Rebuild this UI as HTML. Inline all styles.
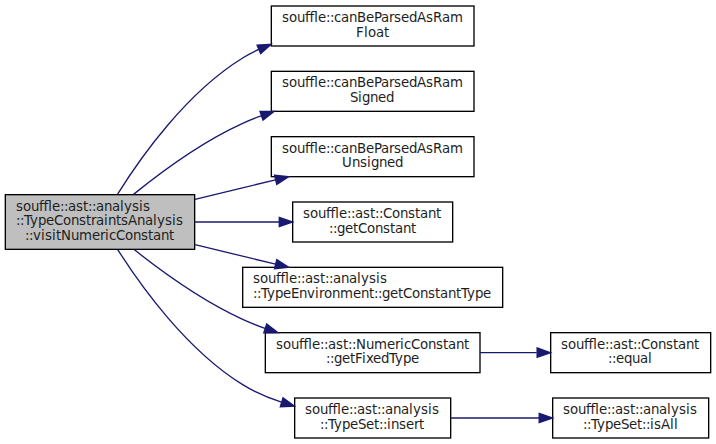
<!DOCTYPE html>
<html lang="en">
<head>
<meta charset="utf-8">
<title>souffle::ast::analysis::TypeConstraintsAnalysis::visitNumericConstant call graph</title>
<style>
html,body{margin:0;padding:0;background:#fff;}
body{width:716px;height:444px;overflow:hidden;}
svg{display:block;}
.node rect{stroke:#000;stroke-width:1.3333px;fill:#fff;}
.node.root rect{fill:#bfbfbf;}
.node text{font-family:"DejaVu Sans","Liberation Sans",sans-serif;font-size:13.3333px;fill:#1e1e1e;text-anchor:start;white-space:pre;}
.edge path{fill:none;stroke:#191970;stroke-width:1.3333px;}
.edge polygon{fill:#191970;stroke:#191970;stroke-width:1.3333px;}
</style>
</head>
<body>
<svg width="716" height="444" viewBox="0 0 716 444">
<rect x="0" y="0" width="716" height="444" fill="#fff"/>
<g id="node1" class="node root">
<rect x="5.33" y="194.67" width="189.33" height="54.67"/>
<text x="16" y="211" dx="0 0.0469 -0.1562 -0.4531 0 0 0.1094 -0.2031 -0.5 -0.5 -0.1719 0.0469 -0.2344 -0.5 -0.5 -0.1719 -0.4531 -0.1719 0.2969 0.1094 0.0469 0.2969">souffle::ast::analysis</text>
<text x="16" y="225" dx="0 -0.5 -0.5 -0.0781 0.1094 -0.4688 -0.2031 -0.3125 -0.1562 -0.4531 0.0469 -0.2344 -0.4844 -0.1719 0.2969 -0.4531 -0.2344 0.0469 -0.125 -0.4531 -0.1719 0.2969 0.1094 0.0469 0.2969">::TypeConstraintsAnalysis</text>
<text x="25" y="240" dx="0 -0.5 -0.5 0.1094 0.2969 0.0469 0.2969 -0.2344 0.0156 -0.4531 0.0156 -0.2031 -0.4844 0.2969 -0.3281 -0.3125 -0.1562 -0.4531 0.0469 -0.2344 -0.1719 -0.4531">::visitNumericConstant</text>
</g>
<g id="node2" class="node">
<rect x="271.33" y="6" width="202.67" height="40"/>
<text x="282" y="22" dx="0 0.0469 -0.1562 -0.4531 0 0 0.1094 -0.2031 -0.5 -0.5 -0.3281 -0.1719 -0.4531 -0.1562 -0.2031 -0.4531 -0.1719 -0.4844 0.0469 -0.2031 -0.4688 -0.125 0.0469 0.0312 -0.1719">souffle::canBeParsedAsRam</text>
<text x="356" y="37" dx="0 0.3281 0.2969 -0.1562 -0.1719">Float</text>
</g>
<g id="edge1" class="edge">
<path d="M117.61,194.12C140.65,157.19 186.33,92.67 242.67,58 247.77,54.87 253.16,52.03 258.73,49.48"/>
<polygon points="257.07,45.12 271.17,44.32 260.64,53.73 257.07,45.12"/>
</g>
<g id="node3" class="node">
<rect x="271.33" y="71.33" width="202.67" height="40"/>
<text x="282" y="87" dx="0 0.0469 -0.1562 -0.4531 0 0 0.1094 -0.2031 -0.5 -0.5 -0.3281 -0.1719 -0.4531 -0.1562 -0.2031 -0.4531 -0.1719 -0.4844 0.0469 -0.2031 -0.4688 -0.125 0.0469 0.0312 -0.1719">souffle::canBeParsedAsRam</text>
<text x="350" y="102" dx="0 -0.4688 0.2969 -0.4688 -0.4531 -0.2031">Signed</text>
</g>
<g id="edge2" class="edge">
<path d="M133.49,194.37C160.85,172.19 202.08,141.79 242.67,123.33 248.57,120.65 254.75,118.16 261.04,115.87"/>
<polygon points="260,111.31 274.12,111.44 263,120.13 260,111.31"/>
</g>
<g id="node4" class="node">
<rect x="271.33" y="136.67" width="202.67" height="40"/>
<text x="282" y="153" dx="0 0.0469 -0.1562 -0.4531 0 0 0.1094 -0.2031 -0.5 -0.5 -0.3281 -0.1719 -0.4531 -0.1562 -0.2031 -0.4531 -0.1719 -0.4844 0.0469 -0.2031 -0.4688 -0.125 0.0469 0.0312 -0.1719">souffle::canBeParsedAsRam</text>
<text x="342" y="167" dx="0 0.2344 -0.4531 0.0469 0.2969 -0.4688 -0.4531 -0.2031">Unsigned</text>
</g>
<g id="edge3" class="edge">
<path d="M195.01,199.33C221.07,193.03 249.4,186.17 275.57,179.84"/>
<polygon points="274.59,175.28 288.64,176.68 276.77,184.35 274.59,175.28"/>
</g>
<g id="node5" class="node">
<rect x="292.67" y="202" width="160" height="40"/>
<text x="303" y="218" dx="0 0.0469 -0.1562 -0.4531 0 0 0.1094 -0.2031 -0.5 -0.5 -0.1719 0.0469 -0.2344 -0.5 -0.5 -0.3125 -0.1562 -0.4531 0.0469 -0.2344 -0.1719 -0.4531">souffle::ast::Constant</text>
<text x="329" y="233" dx="0 -0.5 -0.5 -0.4688 -0.2031 -0.2344 -0.3125 -0.1562 -0.4531 0.0469 -0.2344 -0.1719 -0.4531">::getConstant</text>
</g>
<g id="edge4" class="edge">
<path d="M195.01,222C222.24,222 251.96,222 279.09,222"/>
<polygon points="279.28,217.33 292.61,222 279.28,226.67 279.28,217.33"/>
</g>
<g id="node6" class="node">
<rect x="242.67" y="267.33" width="260" height="40"/>
<text x="253" y="283" dx="0 0.0469 -0.1562 -0.4531 0 0 0.1094 -0.2031 -0.5 -0.5 -0.1719 0.0469 -0.2344 -0.5 -0.5 -0.1719 -0.4531 -0.1719 0.2969 0.1094 0.0469 0.2969">souffle::ast::analysis</text>
<text x="253" y="298" dx="0 -0.5 -0.5 -0.0781 0.1094 -0.4688 -0.2031 -0.4219 -0.4531 0.1094 0.2969 -0.1875 -0.1562 -0.4531 0.0156 -0.2031 -0.4531 -0.2344 -0.5 -0.5 -0.4688 -0.2031 -0.2344 -0.3125 -0.1562 -0.4531 0.0469 -0.2344 -0.1719 -0.4531 -0.2344 -0.0781 0.1094 -0.4688">::TypeEnvironment::getConstantType</text>
</g>
<g id="edge5" class="edge">
<path d="M195.01,244.67C221.07,250.97 249.4,257.83 275.57,264.16"/>
<polygon points="276.77,259.65 288.64,267.32 274.59,268.72 276.77,259.65"/>
</g>
<g id="node7" class="node">
<rect x="265.33" y="332.67" width="214.67" height="40"/>
<text x="276" y="349" dx="0 0.0469 -0.1562 -0.4531 0 0 0.1094 -0.2031 -0.5 -0.5 -0.1719 0.0469 -0.2344 -0.5 -0.5 0.0156 -0.4531 0.0156 -0.2031 -0.4844 0.2969 -0.3281 -0.3125 -0.1562 -0.4531 0.0469 -0.2344 -0.1719 -0.4531">souffle::ast::NumericConstant</text>
<text x="326" y="363" dx="0 -0.5 -0.5 -0.4688 -0.2031 -0.2344 0.2969 0.2969 -0.4844 -0.2031 -0.4688 -0.0781 0.1094 -0.4688">::getFixedType</text>
</g>
<g id="edge6" class="edge">
<path d="M134.16,249.57C161.59,271.35 202.56,301.03 242.67,319.33 249.8,322.59 257.29,325.56 264.95,328.28"/>
<polygon points="266.75,323.96 277.92,332.61 263.79,332.81 266.75,323.96"/>
</g>
<g id="node9" class="node">
<rect x="294.67" y="398" width="156" height="40"/>
<text x="305" y="414" dx="0 0.0469 -0.1562 -0.4531 0 0 0.1094 -0.2031 -0.5 -0.5 -0.1719 0.0469 -0.2344 -0.5 -0.5 -0.1719 -0.4531 -0.1719 0.2969 0.1094 0.0469 0.2969">souffle::ast::analysis</text>
<text x="320" y="429" dx="0 -0.5 -0.5 -0.0781 0.1094 -0.4688 -0.2031 -0.4688 -0.2031 -0.2344 -0.5 -0.5 0.2969 -0.4531 0.0469 -0.2031 -0.4844">::TypeSet::insert</text>
</g>
<g id="edge8" class="edge">
<path d="M117.71,249.57C140.88,286.12 186.69,350 242.67,384.67 254.48,391.99 267.87,397.71 281.43,402.17"/>
<polygon points="283,397.77 294.43,406.09 280.32,406.72 283,397.77"/>
</g>
<g id="node8" class="node">
<rect x="550.67" y="332.67" width="160" height="40"/>
<text x="561" y="349" dx="0 0.0469 -0.1562 -0.4531 0 0 0.1094 -0.2031 -0.5 -0.5 -0.1719 0.0469 -0.2344 -0.5 -0.5 -0.3125 -0.1562 -0.4531 0.0469 -0.2344 -0.1719 -0.4531">souffle::ast::Constant</text>
<text x="608" y="363" dx="0 -0.5 -0.5 -0.2031 -0.4688 -0.4531 -0.1719">::equal</text>
</g>
<g id="edge7" class="edge">
<path d="M480.07,352.67C498.84,352.67 518.27,352.67 536.64,352.67"/>
<polygon points="537.13,348 550.47,352.67 537.13,357.33 537.13,348"/>
</g>
<g id="node10" class="node">
<rect x="552.67" y="398" width="156" height="40"/>
<text x="563" y="414" dx="0 0.0469 -0.1562 -0.4531 0 0 0.1094 -0.2031 -0.5 -0.5 -0.1719 0.0469 -0.2344 -0.5 -0.5 -0.1719 -0.4531 -0.1719 0.2969 0.1094 0.0469 0.2969">souffle::ast::analysis</text>
<text x="583" y="429" dx="0 -0.5 -0.5 -0.0781 0.1094 -0.4688 -0.2031 -0.4688 -0.2031 -0.2344 -0.5 -0.5 0.2969 0.0469 -0.125 0.2969">::TypeSet::isAll</text>
</g>
<g id="edge9" class="edge">
<path d="M450.96,418C478.72,418 510.29,418 539.09,418"/>
<polygon points="539.2,413.33 552.53,418 539.2,422.67 539.2,413.33"/>
</g>
</svg>
</body>
</html>
